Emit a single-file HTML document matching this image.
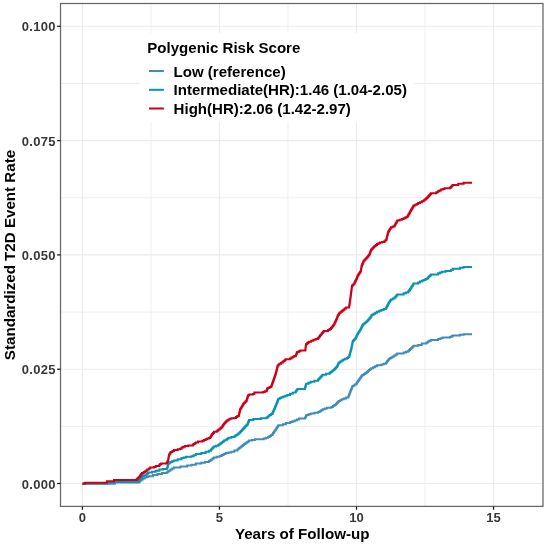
<!DOCTYPE html>
<html><head><meta charset="utf-8"><style>
html,body{margin:0;padding:0;background:#fff;}
body{width:550px;height:545px;overflow:hidden;}
svg{display:block;}
text{font-family:"Liberation Sans",Arial,sans-serif;font-weight:bold;}
.mn{stroke:#efefef;stroke-width:1;}
.mj{stroke:#ebebeb;stroke-width:1.1;}
.tk line{stroke:#222;stroke-width:1.3;}
.tl text{font-size:13px;fill:#383838;}
.yl{letter-spacing:0.3px;}
.cv{fill:none;stroke-width:2;stroke-linejoin:miter;stroke-linecap:butt;}
.lg text{font-size:15.05px;fill:#000;}
.ttl{font-size:15.15px;fill:#000;}
</style></head><body>
<svg width="550" height="545" viewBox="0 0 550 545">
<rect x="0" y="0" width="550" height="545" fill="#fff"/>
<g><line x1="60.5" x2="543.0" y1="426.35" y2="426.35" class="mn"/><line x1="60.5" x2="543.0" y1="312.05" y2="312.05" class="mn"/><line x1="60.5" x2="543.0" y1="197.75" y2="197.75" class="mn"/><line x1="60.5" x2="543.0" y1="83.45" y2="83.45" class="mn"/><line y1="3.5" y2="506.4" x1="150.93" x2="150.93" class="mn"/><line y1="3.5" y2="506.4" x1="287.98" x2="287.98" class="mn"/><line y1="3.5" y2="506.4" x1="425.02" x2="425.02" class="mn"/><line x1="60.5" x2="543.0" y1="483.50" y2="483.50" class="mj"/><line x1="60.5" x2="543.0" y1="369.20" y2="369.20" class="mj"/><line x1="60.5" x2="543.0" y1="254.90" y2="254.90" class="mj"/><line x1="60.5" x2="543.0" y1="140.60" y2="140.60" class="mj"/><line x1="60.5" x2="543.0" y1="26.30" y2="26.30" class="mj"/><line y1="3.5" y2="506.4" x1="82.40" x2="82.40" class="mj"/><line y1="3.5" y2="506.4" x1="219.45" x2="219.45" class="mj"/><line y1="3.5" y2="506.4" x1="356.50" x2="356.50" class="mj"/><line y1="3.5" y2="506.4" x1="493.55" x2="493.55" class="mj"/></g>
<g>
<polyline class="cv" stroke="#418cb9" points="82.40,483.80 114.80,483.80 114.80,482.60 138.30,482.40 139.20,482.40 139.20,481.40 140.10,481.40 140.10,480.40 141.45,480.40 141.45,479.45 142.80,479.45 142.80,478.50 144.70,478.50 144.70,477.60 146.50,477.60 146.50,476.90 148.30,476.90 148.30,476.20 152.90,476.20 152.90,474.90 157.50,474.90 157.50,474.00 162.10,474.00 162.10,473.00 166.70,473.00 166.70,472.60 167.60,472.60 167.60,471.65 168.50,471.65 168.50,470.70 170.40,470.70 170.40,469.40 172.20,469.40 172.20,468.45 174.00,468.45 174.00,467.50 180.50,467.50 180.50,466.50 187.10,466.50 187.10,465.50 191.50,465.50 191.50,464.70 195.80,464.70 195.80,463.60 201.30,463.60 201.30,462.70 205.00,462.70 205.00,461.90 208.90,461.90 208.90,461.10 209.90,461.10 209.90,460.40 210.90,460.40 210.90,459.70 212.35,459.70 212.35,458.60 213.80,458.60 213.80,457.50 216.75,457.50 216.75,456.80 219.70,456.80 219.70,456.10 221.67,456.10 221.67,455.10 223.63,455.10 223.63,454.10 225.60,454.10 225.60,453.10 228.50,453.10 228.50,452.40 231.40,452.40 231.40,451.70 234.35,451.70 234.35,450.60 237.30,450.60 237.30,449.50 238.40,449.50 238.40,448.57 239.50,448.57 239.50,447.65 240.60,447.65 240.60,446.73 241.70,446.73 241.70,445.80 242.92,445.80 242.92,444.93 244.13,444.93 244.13,444.07 245.35,444.07 245.35,443.20 246.57,443.20 246.57,442.33 247.78,442.33 247.78,441.47 249.00,441.47 249.00,440.60 251.95,440.60 251.95,439.90 254.90,439.90 254.90,439.20 263.70,439.20 263.70,438.40 265.90,438.40 265.90,437.70 268.10,437.70 268.10,437.00 269.57,437.00 269.57,436.00 271.03,436.00 271.03,435.00 272.50,435.00 272.50,434.00 273.10,434.00 273.10,433.12 273.70,433.12 273.70,432.24 274.30,432.24 274.30,431.36 274.90,431.36 274.90,430.48 275.50,430.48 275.50,429.60 276.08,429.60 276.08,428.72 276.66,428.72 276.66,427.84 277.24,427.84 277.24,426.96 277.82,426.96 277.82,426.08 278.40,426.08 278.40,425.20 280.00,425.30 282.95,425.30 282.95,424.20 285.90,424.20 285.90,423.10 290.30,423.10 290.30,422.00 292.50,422.00 292.50,421.25 294.70,421.25 294.70,420.50 296.90,420.50 296.90,419.45 299.10,419.45 299.10,418.40 305.00,418.40 305.00,418.00 305.47,418.00 305.47,417.00 305.93,417.00 305.93,416.00 306.40,416.00 306.40,415.00 308.60,415.00 308.60,414.30 310.80,414.30 310.80,413.60 314.50,413.60 314.50,412.85 318.20,412.85 318.20,412.10 319.67,412.10 319.67,411.13 321.13,411.13 321.13,410.17 322.60,410.17 322.60,409.20 324.80,409.20 324.80,408.45 327.00,408.45 327.00,407.70 331.40,407.70 331.40,407.00 332.87,407.00 332.87,406.00 334.33,406.00 334.33,405.00 335.80,405.00 335.80,404.00 336.77,404.00 336.77,403.03 337.73,403.03 337.73,402.07 338.70,402.07 338.70,401.10 340.20,401.10 340.20,400.20 341.70,400.20 341.70,399.30 343.90,399.30 343.90,398.43 346.10,398.43 346.10,397.57 348.30,397.57 348.30,396.70 348.61,396.70 348.61,395.86 348.93,395.86 348.93,395.01 349.24,395.01 349.24,394.17 349.56,394.17 349.56,393.33 349.87,393.33 349.87,392.49 350.19,392.49 350.19,391.64 350.50,391.64 350.50,390.80 350.87,390.80 350.87,389.95 351.23,389.95 351.23,389.10 351.60,389.10 351.60,388.25 351.97,388.25 351.97,387.40 352.33,387.40 352.33,386.55 352.70,386.55 352.70,385.70 354.50,385.70 354.50,384.60 356.30,384.60 356.30,383.50 356.88,383.50 356.88,382.62 357.45,382.62 357.45,381.75 358.03,381.75 358.03,380.88 358.60,380.88 358.60,380.00 359.22,380.00 359.22,379.15 359.83,379.15 359.83,378.30 360.45,378.30 360.45,377.45 361.07,377.45 361.07,376.60 361.68,376.60 361.68,375.75 362.30,375.75 362.30,374.90 363.77,374.90 363.77,373.90 365.23,373.90 365.23,372.90 366.70,372.90 366.70,371.90 367.80,371.90 367.80,371.00 368.90,371.00 368.90,370.10 370.00,370.10 370.00,369.20 371.10,369.20 371.10,368.30 373.07,368.30 373.07,367.30 375.03,367.30 375.03,366.30 377.00,366.30 377.00,365.30 381.40,365.30 381.40,364.60 383.60,364.60 383.60,363.85 385.80,363.85 385.80,363.10 386.46,363.10 386.46,362.22 387.12,362.22 387.12,361.34 387.78,361.34 387.78,360.46 388.44,360.46 388.44,359.58 389.10,359.58 389.10,358.70 390.30,358.70 390.30,357.93 391.50,357.93 391.50,357.17 392.70,357.17 392.70,356.40 394.23,356.40 394.23,355.47 395.77,355.47 395.77,354.53 397.30,354.53 397.30,353.60 403.60,353.60 403.60,352.40 405.90,352.40 405.90,351.65 408.20,351.65 408.20,350.90 409.10,350.90 409.10,350.00 410.00,350.00 410.00,349.10 410.90,349.10 410.90,348.20 411.80,348.20 411.80,347.40 412.70,347.40 412.70,346.60 413.60,346.60 413.60,345.80 418.20,345.80 418.20,344.90 421.80,344.90 421.80,343.60 426.40,343.60 426.40,342.40 427.90,342.40 427.90,341.60 429.40,341.60 429.40,340.80 430.90,340.80 430.90,340.00 438.20,340.00 438.20,339.10 440.45,339.10 440.45,338.35 442.70,338.35 442.70,337.60 450.00,337.60 450.00,336.90 451.35,336.90 451.35,336.20 452.70,336.20 452.70,335.50 460.00,335.50 460.00,334.70 463.60,334.70 463.60,334.20 472.00,334.20"/>
<polyline class="cv" stroke="#0893b4" points="82.40,483.60 107.50,483.60 107.50,482.60 114.80,482.60 114.80,481.90 137.30,481.90 137.93,481.90 137.93,481.07 138.57,481.07 138.57,480.23 139.20,480.23 139.20,479.40 140.10,479.40 140.10,478.50 141.00,478.50 141.00,477.60 141.90,477.60 141.90,476.70 142.85,476.70 142.85,476.00 143.80,476.00 143.80,475.30 146.50,475.30 146.50,474.00 147.40,474.00 147.40,473.30 148.30,473.30 148.30,472.60 152.00,472.60 152.00,471.70 155.70,471.70 155.70,470.70 159.40,470.70 159.40,469.40 163.00,469.40 163.00,468.90 166.70,468.90 166.70,468.40 167.15,468.40 167.15,467.50 167.60,467.50 167.60,466.60 167.82,466.60 167.82,465.80 168.05,465.80 168.05,465.00 168.28,465.00 168.28,464.20 168.50,464.20 168.50,463.40 169.45,463.40 169.45,462.70 170.40,462.70 170.40,462.00 172.20,462.00 172.20,461.30 174.00,461.30 174.00,460.60 177.70,460.60 177.70,459.30 181.60,459.30 181.60,458.10 183.80,458.10 183.80,457.40 186.00,457.40 186.00,456.70 191.50,456.70 191.50,456.20 193.60,456.20 193.60,455.30 195.80,455.30 195.80,454.00 201.30,454.00 201.30,452.90 205.60,452.90 205.60,451.80 208.90,451.80 208.90,450.70 210.90,450.70 210.90,449.50 211.87,449.50 211.87,448.50 212.83,448.50 212.83,447.50 213.80,447.50 213.80,446.50 216.00,446.50 216.00,445.75 218.20,445.75 218.20,445.00 219.38,445.00 219.38,444.12 220.56,444.12 220.56,443.24 221.74,443.24 221.74,442.36 222.92,442.36 222.92,441.48 224.10,441.48 224.10,440.60 225.57,440.60 225.57,439.63 227.03,439.63 227.03,438.67 228.50,438.67 228.50,437.70 231.45,437.70 231.45,436.95 234.40,436.95 234.40,436.20 235.68,436.20 235.68,435.30 236.95,435.30 236.95,434.40 238.22,434.40 238.22,433.50 239.50,433.50 239.50,432.60 240.24,432.60 240.24,431.78 240.98,431.78 240.98,430.96 241.72,430.96 241.72,430.14 242.46,430.14 242.46,429.32 243.20,429.32 243.20,428.50 244.08,428.50 244.08,427.56 244.96,427.56 244.96,426.62 245.84,426.62 245.84,425.68 246.72,425.68 246.72,424.74 247.60,424.74 247.60,423.80 247.95,423.80 247.95,422.88 248.30,422.88 248.30,421.95 248.65,421.95 248.65,421.03 249.00,421.03 249.00,420.10 253.40,420.10 253.40,419.10 260.80,419.10 260.80,418.30 266.70,418.30 266.70,417.60 267.67,417.60 267.67,416.73 268.63,416.73 268.63,415.87 269.60,415.87 269.60,415.00 271.05,415.00 271.05,413.90 272.50,413.90 272.50,412.80 272.93,412.80 272.93,411.84 273.36,411.84 273.36,410.89 273.79,410.89 273.79,409.93 274.21,409.93 274.21,408.97 274.64,408.97 274.64,408.01 275.07,408.01 275.07,407.06 275.50,407.06 275.50,406.10 275.86,406.10 275.86,405.19 276.23,405.19 276.23,404.28 276.59,404.28 276.59,403.36 276.95,403.36 276.95,402.45 277.31,402.45 277.31,401.54 277.67,401.54 277.67,400.62 278.04,400.62 278.04,399.71 278.40,399.71 278.40,398.80 279.85,398.80 279.85,398.05 281.30,398.05 281.30,397.30 283.30,397.30 283.30,396.50 285.30,396.50 285.30,395.70 287.30,395.70 287.30,394.90 290.05,394.90 290.05,393.80 292.80,393.80 292.80,392.70 294.70,392.60 295.38,392.60 295.38,391.70 296.05,391.70 296.05,390.80 296.72,390.80 296.72,389.90 297.40,389.90 297.40,389.00 305.00,389.00 305.00,387.70 305.30,387.70 305.30,386.73 305.60,386.73 305.60,385.75 305.90,385.75 305.90,384.77 306.20,384.77 306.20,383.80 308.40,383.80 308.40,382.75 310.60,382.75 310.60,381.70 314.30,381.70 314.30,380.65 318.00,380.65 318.00,379.60 318.88,379.60 318.88,378.64 319.76,378.64 319.76,377.68 320.64,377.68 320.64,376.72 321.52,376.72 321.52,375.76 322.40,375.76 322.40,374.80 326.05,374.80 326.05,373.80 329.70,373.80 329.70,372.80 330.73,372.80 330.73,371.97 331.77,371.97 331.77,371.13 332.80,371.13 332.80,370.30 334.40,370.30 334.40,369.00 335.33,369.00 335.33,367.97 336.27,367.97 336.27,366.93 337.20,366.93 337.20,365.90 337.60,365.90 337.60,365.02 338.00,365.02 338.00,364.15 338.40,364.15 338.40,363.27 338.80,363.27 338.80,362.40 340.27,362.40 340.27,361.40 341.73,361.40 341.73,360.40 343.20,360.40 343.20,359.40 345.05,359.40 345.05,358.70 346.90,358.70 346.90,358.00 348.00,358.00 348.00,357.25 349.10,357.25 349.10,356.50 349.34,356.50 349.34,355.60 349.59,355.60 349.59,354.70 349.83,354.70 349.83,353.80 350.08,353.80 350.08,352.90 350.32,352.90 350.32,352.00 350.57,352.00 350.57,351.10 350.81,351.10 350.81,350.20 351.06,350.20 351.06,349.30 351.30,349.30 351.30,348.40 351.49,348.40 351.49,347.49 351.68,347.49 351.68,346.57 351.86,346.57 351.86,345.66 352.05,345.66 352.05,344.75 352.24,344.75 352.24,343.84 352.43,343.84 352.43,342.93 352.61,342.93 352.61,342.01 352.80,342.01 352.80,341.10 353.52,341.10 353.52,340.30 354.25,340.30 354.25,339.50 354.98,339.50 354.98,338.70 355.70,338.70 355.70,337.90 356.07,337.90 356.07,337.05 356.45,337.05 356.45,336.20 356.82,336.20 356.82,335.35 357.20,335.35 357.20,334.50 357.71,334.50 357.71,333.66 358.23,333.66 358.23,332.81 358.74,332.81 358.74,331.97 359.26,331.97 359.26,331.13 359.77,331.13 359.77,330.29 360.29,330.29 360.29,329.44 360.80,329.44 360.80,328.60 361.24,328.60 361.24,327.72 361.68,327.72 361.68,326.84 362.12,326.84 362.12,325.96 362.56,325.96 362.56,325.08 363.00,325.08 363.00,324.20 364.23,324.20 364.23,323.23 365.47,323.23 365.47,322.27 366.70,322.27 366.70,321.30 367.62,321.30 367.62,320.30 368.55,320.30 368.55,319.30 369.47,319.30 369.47,318.30 370.40,318.30 370.40,317.30 370.87,317.30 370.87,316.43 371.33,316.43 371.33,315.57 371.80,315.57 371.80,314.70 373.53,314.70 373.53,313.70 375.27,313.70 375.27,312.70 377.00,312.70 377.00,311.70 379.20,311.70 379.20,310.85 381.40,310.85 381.40,310.00 383.60,310.00 383.60,309.05 385.80,309.05 385.80,308.10 386.35,308.10 386.35,307.18 386.90,307.18 386.90,306.25 387.45,306.25 387.45,305.32 388.00,305.32 388.00,304.40 388.35,304.40 388.35,303.55 388.70,303.55 388.70,302.70 389.25,302.70 389.25,301.90 389.80,301.90 389.80,301.10 390.35,301.10 390.35,300.30 390.90,300.30 390.90,299.50 392.70,299.50 392.70,298.55 394.50,298.55 394.50,297.60 395.43,297.60 395.43,296.57 396.37,296.57 396.37,295.53 397.30,295.53 397.30,294.50 403.60,294.50 403.60,293.30 405.90,293.30 405.90,292.40 408.20,292.40 408.20,291.50 408.80,291.50 408.80,290.70 409.40,290.70 409.40,289.90 410.00,289.90 410.00,289.10 410.60,289.10 410.60,288.18 411.20,288.18 411.20,287.27 411.80,287.27 411.80,286.35 412.40,286.35 412.40,285.43 413.00,285.43 413.00,284.52 413.60,284.52 413.60,283.60 418.20,283.60 418.20,282.40 420.00,282.40 420.00,281.60 421.80,281.60 421.80,280.80 423.60,280.80 423.60,280.00 425.45,280.00 425.45,279.10 427.30,279.10 427.30,278.20 428.20,278.20 428.20,277.27 429.10,277.27 429.10,276.35 430.00,276.35 430.00,275.43 430.90,275.43 430.90,274.50 438.20,274.50 438.20,273.30 440.00,273.30 440.00,272.55 441.80,272.55 441.80,271.80 445.50,271.80 445.50,270.90 450.90,270.90 450.90,270.00 452.70,270.00 452.70,268.70 460.00,268.70 460.00,267.80 463.60,267.80 463.60,267.10 472.00,267.10"/>
<polyline class="cv" stroke="#cc0019" points="82.40,483.80 84.80,483.80 84.80,482.70 106.90,482.70 106.90,481.20 114.00,481.20 114.00,479.90 136.00,479.90 136.65,479.90 136.65,479.20 137.30,479.20 137.30,478.50 138.25,478.50 138.25,477.60 139.20,477.60 139.20,476.70 139.88,476.70 139.88,475.77 140.55,475.77 140.55,474.85 141.22,474.85 141.22,473.93 141.90,473.93 141.90,473.00 143.80,473.00 143.80,472.10 145.15,472.10 145.15,471.20 146.50,471.20 146.50,470.30 147.40,470.30 147.40,469.40 148.80,469.40 148.80,468.45 150.20,468.45 150.20,467.50 153.90,467.50 153.90,467.10 155.70,467.10 155.70,466.10 159.40,466.10 159.40,464.80 160.30,464.80 160.30,464.10 161.20,464.10 161.20,463.40 166.70,463.40 166.70,462.90 167.17,462.90 167.17,462.00 167.63,462.00 167.63,461.10 168.10,461.10 168.10,460.20 168.25,460.20 168.25,459.28 168.40,459.28 168.40,458.37 168.55,458.37 168.55,457.45 168.70,457.45 168.70,456.53 168.85,456.53 168.85,455.62 169.00,455.62 169.00,454.70 169.60,454.70 169.60,453.77 170.20,453.77 170.20,452.83 170.80,452.83 170.80,451.90 172.40,451.90 172.40,451.00 174.00,451.00 174.00,450.10 177.70,450.10 177.70,449.20 180.00,449.20 180.00,448.70 181.60,448.70 181.60,447.50 183.25,447.50 183.25,446.80 184.90,446.80 184.90,446.10 188.20,446.10 188.20,445.50 192.00,445.50 192.80,445.50 192.80,444.75 193.60,444.75 193.60,444.00 194.70,444.00 194.70,443.25 195.80,443.25 195.80,442.50 198.00,442.50 198.00,441.50 202.40,441.50 202.40,440.70 204.00,440.70 204.00,440.00 205.60,440.00 205.60,439.30 207.25,439.30 207.25,438.60 208.90,438.60 208.90,437.90 210.30,437.90 210.30,436.90 210.90,436.90 210.90,435.93 211.50,435.93 211.50,434.97 212.10,434.97 212.10,434.00 213.00,434.00 213.00,432.90 213.90,432.90 213.90,431.80 216.70,431.80 216.70,431.20 217.60,431.20 217.60,430.30 218.50,430.30 218.50,429.40 219.73,429.40 219.73,428.47 220.97,428.47 220.97,427.53 222.20,427.53 222.20,426.60 222.65,426.60 222.65,425.80 223.10,425.80 223.10,425.00 223.55,425.00 223.55,424.20 224.00,424.20 224.00,423.40 224.93,423.40 224.93,422.47 225.87,422.47 225.87,421.53 226.80,421.53 226.80,420.60 228.15,420.60 228.15,419.70 229.50,419.70 229.50,418.80 231.40,418.80 231.40,418.30 234.40,418.30 234.40,417.90 235.87,417.90 235.87,416.93 237.33,416.93 237.33,415.97 238.80,415.97 238.80,415.00 239.00,415.00 239.00,414.16 239.20,414.16 239.20,413.31 239.40,413.31 239.40,412.47 239.60,412.47 239.60,411.63 239.80,411.63 239.80,410.79 240.00,410.79 240.00,409.94 240.20,409.94 240.20,409.10 240.71,409.10 240.71,408.24 241.23,408.24 241.23,407.39 241.74,407.39 241.74,406.53 242.26,406.53 242.26,405.67 242.77,405.67 242.77,404.81 243.29,404.81 243.29,403.96 243.80,403.96 243.80,403.10 244.70,403.10 244.70,402.20 245.60,402.20 245.60,401.30 246.50,401.30 246.50,400.40 246.78,400.40 246.78,399.48 247.06,399.48 247.06,398.56 247.34,398.56 247.34,397.64 247.62,397.64 247.62,396.72 247.90,396.72 247.90,395.80 248.60,395.80 248.60,395.10 249.30,395.10 249.30,394.40 252.90,394.40 252.90,393.90 254.30,393.90 254.30,392.60 263.00,392.60 263.00,392.10 264.85,392.10 264.85,391.20 266.70,391.20 266.70,390.30 267.00,390.30 267.00,389.53 267.30,389.53 267.30,388.77 267.60,388.77 267.60,388.00 269.45,388.00 269.45,387.05 271.30,387.05 271.30,386.10 271.60,386.10 271.60,385.27 271.90,385.27 271.90,384.43 272.20,384.43 272.20,383.60 272.50,383.60 272.50,382.77 272.80,382.77 272.80,381.93 273.10,381.93 273.10,381.10 273.41,381.10 273.41,380.18 273.72,380.18 273.72,379.26 274.03,379.26 274.03,378.33 274.34,378.33 274.34,377.41 274.66,377.41 274.66,376.49 274.97,376.49 274.97,375.57 275.28,375.57 275.28,374.64 275.59,374.64 275.59,373.72 275.90,373.72 275.90,372.80 276.12,372.80 276.12,371.89 276.35,371.89 276.35,370.98 276.57,370.98 276.57,370.06 276.80,370.06 276.80,369.15 277.02,369.15 277.02,368.24 277.25,368.24 277.25,367.32 277.47,367.32 277.47,366.41 277.70,366.41 277.70,365.50 278.60,365.50 278.60,364.60 279.50,364.60 279.50,363.70 281.05,363.70 281.05,362.75 282.60,362.75 282.60,361.80 283.57,361.80 283.57,360.97 284.53,360.97 284.53,360.13 285.50,360.13 285.50,359.30 289.90,359.30 289.90,358.50 291.35,358.50 291.35,357.60 292.80,357.60 292.80,356.70 294.30,356.70 294.30,355.95 295.80,355.95 295.80,355.20 296.15,355.20 296.15,354.40 296.50,354.40 296.50,353.60 296.85,353.60 296.85,352.80 297.20,352.80 297.20,352.00 298.70,352.00 298.70,351.20 300.20,351.20 300.20,350.40 305.30,350.40 305.30,350.10 305.40,350.10 305.40,349.26 305.50,349.26 305.50,348.41 305.60,348.41 305.60,347.57 305.70,347.57 305.70,346.73 305.80,346.73 305.80,345.89 305.90,345.89 305.90,345.04 306.00,345.04 306.00,344.20 307.00,344.20 307.00,343.37 308.00,343.37 308.00,342.53 309.00,342.53 309.00,341.70 311.20,341.70 311.20,340.75 313.40,340.75 313.40,339.80 315.60,339.80 315.60,339.05 317.80,339.05 317.80,338.30 318.52,338.30 318.52,337.40 319.25,337.40 319.25,336.50 319.98,336.50 319.98,335.60 320.70,335.60 320.70,334.70 321.45,334.70 321.45,333.77 322.20,333.77 322.20,332.85 322.95,332.85 322.95,331.93 323.70,331.93 323.70,331.00 328.10,331.00 328.10,330.00 329.55,330.00 329.55,329.05 331.00,329.05 331.00,328.10 331.73,328.10 331.73,327.18 332.45,327.18 332.45,326.25 333.17,326.25 333.17,325.32 333.90,325.32 333.90,324.40 334.33,324.40 334.33,323.50 334.77,323.50 334.77,322.60 335.20,322.60 335.20,321.70 335.63,321.70 335.63,320.80 336.07,320.80 336.07,319.90 336.50,319.90 336.50,319.00 336.82,319.00 336.82,318.18 337.14,318.18 337.14,317.36 337.46,317.36 337.46,316.54 337.78,316.54 337.78,315.72 338.10,315.72 338.10,314.90 338.80,314.90 338.80,313.80 339.50,313.80 339.50,312.70 340.73,312.70 340.73,311.70 341.97,311.70 341.97,310.70 343.20,310.70 343.20,309.70 344.65,309.70 344.65,308.60 346.10,308.60 346.10,307.50 349.10,307.50 349.10,306.80 349.24,306.80 349.24,305.86 349.37,305.86 349.37,304.93 349.51,304.93 349.51,303.99 349.65,303.99 349.65,303.05 349.78,303.05 349.78,302.12 349.92,302.12 349.92,301.18 350.05,301.18 350.05,300.25 350.19,300.25 350.19,299.31 350.33,299.31 350.33,298.37 350.46,298.37 350.46,297.44 350.60,297.44 350.60,296.50 350.72,296.50 350.72,295.58 350.83,295.58 350.83,294.67 350.95,294.67 350.95,293.75 351.07,293.75 351.07,292.83 351.18,292.83 351.18,291.92 351.30,291.92 351.30,291.00 351.42,291.00 351.42,290.08 351.53,290.08 351.53,289.17 351.65,289.17 351.65,288.25 351.77,288.25 351.77,287.33 351.88,287.33 351.88,286.42 352.00,286.42 352.00,285.50 353.10,285.50 353.10,284.40 354.20,284.40 354.20,283.30 354.64,283.30 354.64,282.42 355.08,282.42 355.08,281.54 355.52,281.54 355.52,280.66 355.96,280.66 355.96,279.78 356.40,279.78 356.40,278.90 356.77,278.90 356.77,277.97 357.15,277.97 357.15,277.05 357.52,277.05 357.52,276.12 357.90,276.12 357.90,275.20 358.48,275.20 358.48,274.32 359.06,274.32 359.06,273.44 359.64,273.44 359.64,272.56 360.22,272.56 360.22,271.68 360.80,271.68 360.80,270.80 360.93,270.80 360.93,269.95 361.07,269.95 361.07,269.10 361.20,269.10 361.20,268.25 361.33,268.25 361.33,267.40 361.47,267.40 361.47,266.55 361.60,266.55 361.60,265.70 361.97,265.70 361.97,264.85 362.33,264.85 362.33,264.00 362.70,264.00 362.70,263.15 363.07,263.15 363.07,262.30 363.43,262.30 363.43,261.45 363.80,261.45 363.80,260.60 364.77,260.60 364.77,259.60 365.73,259.60 365.73,258.60 366.70,258.60 366.70,257.60 367.43,257.60 367.43,256.68 368.15,256.68 368.15,255.75 368.88,255.75 368.88,254.83 369.60,254.83 369.60,253.90 369.90,253.90 369.90,253.02 370.20,253.02 370.20,252.14 370.50,252.14 370.50,251.26 370.80,251.26 370.80,250.38 371.10,250.38 371.10,249.50 372.07,249.50 372.07,248.53 373.03,248.53 373.03,247.57 374.00,247.57 374.00,246.60 375.00,246.60 375.00,245.77 376.00,245.77 376.00,244.93 377.00,244.93 377.00,244.10 378.45,244.10 378.45,243.35 379.90,243.35 379.90,242.60 382.10,242.60 382.10,241.90 384.30,241.90 384.30,241.20 385.35,241.20 385.35,240.15 386.40,240.15 386.40,239.10 386.62,239.10 386.62,238.19 386.85,238.19 386.85,237.28 387.07,237.28 387.07,236.36 387.30,236.36 387.30,235.45 387.52,235.45 387.52,234.54 387.75,234.54 387.75,233.62 387.97,233.62 387.97,232.71 388.20,232.71 388.20,231.80 388.74,231.80 388.74,230.90 389.28,230.90 389.28,230.00 389.82,230.00 389.82,229.10 390.36,229.10 390.36,228.20 390.90,228.20 390.90,227.30 392.70,227.30 392.70,226.40 394.50,226.40 394.50,225.50 394.97,225.50 394.97,224.67 395.43,224.67 395.43,223.83 395.90,223.83 395.90,223.00 396.37,223.00 396.37,222.17 396.83,222.17 396.83,221.33 397.30,221.33 397.30,220.50 399.55,220.50 399.55,219.80 401.80,219.80 401.80,219.10 403.63,219.10 403.63,218.20 405.47,218.20 405.47,217.30 407.30,217.30 407.30,216.40 407.84,216.40 407.84,215.48 408.38,215.48 408.38,214.56 408.92,214.56 408.92,213.64 409.46,213.64 409.46,212.72 410.00,212.72 410.00,211.80 410.51,211.80 410.51,210.90 411.03,210.90 411.03,210.00 411.54,210.00 411.54,209.10 412.06,209.10 412.06,208.20 412.57,208.20 412.57,207.30 413.09,207.30 413.09,206.40 413.60,206.40 413.60,205.50 415.13,205.50 415.13,204.70 416.67,204.70 416.67,203.90 418.20,203.90 418.20,203.10 420.00,203.10 420.00,202.23 421.80,202.23 421.80,201.37 423.60,201.37 423.60,200.50 424.53,200.50 424.53,199.70 425.45,199.70 425.45,198.90 426.38,198.90 426.38,198.10 427.30,198.10 427.30,197.30 428.20,197.30 428.20,196.30 429.10,196.30 429.10,195.30 430.00,195.30 430.00,194.30 430.90,194.30 430.90,193.30 436.40,193.30 436.40,192.20 437.90,192.20 437.90,191.33 439.40,191.33 439.40,190.47 440.90,190.47 440.90,189.60 442.70,189.60 442.70,188.90 444.50,188.90 444.50,188.20 450.00,188.20 450.00,187.80 450.90,187.80 450.90,186.83 451.80,186.83 451.80,185.87 452.70,185.87 452.70,184.90 458.20,184.90 458.20,183.80 463.60,183.80 463.60,182.70 472.00,182.70"/>
</g>
<g class="lg">
<rect x="140" y="33" width="274" height="89" fill="#fff"/>
<text x="147.3" y="52.5">Polygenic Risk Score</text>
<line x1="149" x2="163.9" y1="71" y2="71" stroke="#418cb9" stroke-width="2"/>
<line x1="149" x2="163.9" y1="89.8" y2="89.8" stroke="#0893b4" stroke-width="2"/>
<line x1="149" x2="163.9" y1="108.5" y2="108.5" stroke="#cc0019" stroke-width="2"/>
<text x="173.6" y="76.6">Low (reference)</text>
<text x="173.6" y="95.4">Intermediate(HR):1.46 (1.04-2.05)</text>
<text x="173.6" y="114.2">High(HR):2.06 (1.42-2.97)</text>
</g>
<rect x="60.5" y="3.5" width="482.50" height="502.90" fill="none" stroke="#666" stroke-width="1.25"/>
<g class="tk"><line x1="57.1" x2="60.5" y1="483.50" y2="483.50"/><line x1="57.1" x2="60.5" y1="369.20" y2="369.20"/><line x1="57.1" x2="60.5" y1="254.90" y2="254.90"/><line x1="57.1" x2="60.5" y1="140.60" y2="140.60"/><line x1="57.1" x2="60.5" y1="26.30" y2="26.30"/><line y1="506.4" y2="509.8" x1="82.40" x2="82.40"/><line y1="506.4" y2="509.8" x1="219.45" x2="219.45"/><line y1="506.4" y2="509.8" x1="356.50" x2="356.50"/><line y1="506.4" y2="509.8" x1="493.55" x2="493.55"/></g>
<g class="tl"><text class="yl" x="55.8" y="488.50" text-anchor="end">0.000</text><text class="yl" x="55.8" y="374.20" text-anchor="end">0.025</text><text class="yl" x="55.8" y="259.90" text-anchor="end">0.050</text><text class="yl" x="55.8" y="145.60" text-anchor="end">0.075</text><text class="yl" x="55.8" y="31.30" text-anchor="end">0.100</text><text x="82.40" y="521.8" text-anchor="middle">0</text><text x="219.45" y="521.8" text-anchor="middle">5</text><text x="356.50" y="521.8" text-anchor="middle">10</text><text x="493.55" y="521.8" text-anchor="middle">15</text></g>
<text class="ttl" x="302.2" y="538.8" text-anchor="middle">Years of Follow-up</text>
<text class="ttl" transform="translate(15.2,255) rotate(-90)" x="0" y="0" text-anchor="middle">Standardized T2D Event Rate</text>
</svg>
</body></html>
